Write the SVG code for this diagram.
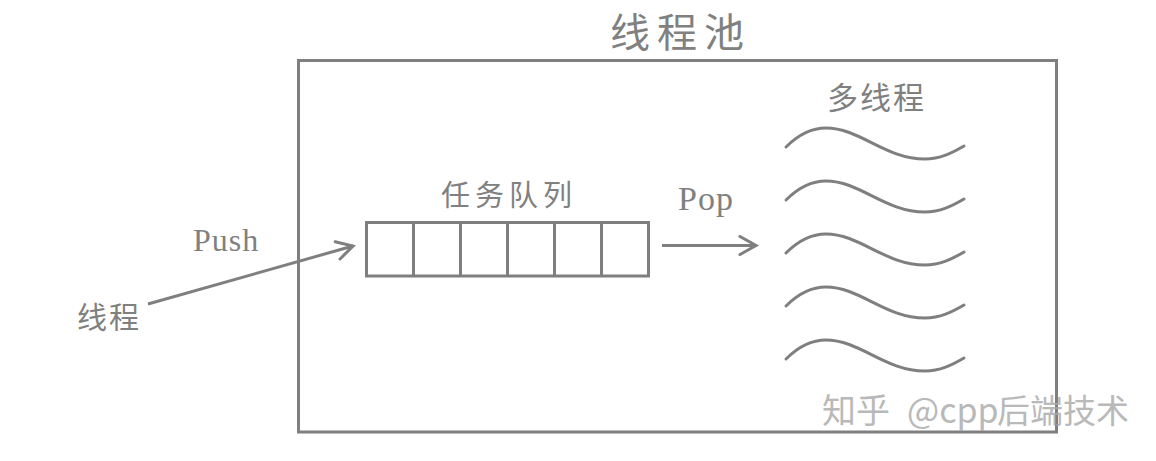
<svg xmlns="http://www.w3.org/2000/svg" width="1156" height="461" viewBox="0 0 1156 461">
<style>
.ln{fill:none;stroke:#7f7f7f;stroke-width:3}
.wv{fill:none;stroke:#7f7f7f;stroke-width:3;stroke-linecap:round}
.cj{font-family:"Noto Sans CJK SC","Noto Sans CJK JP",sans-serif;fill:#808080}
.la{font-family:"Liberation Serif",serif;fill:#808080}
</style>
<defs>
<path id="wave" d="M786 147C800 133 814 128 826 128C860 128 885 159 925 159C940 159 952 153 964 146"/>
<marker id="arr" markerUnits="userSpaceOnUse" markerWidth="30" markerHeight="30" refX="22" refY="11" orient="auto" viewBox="0 0 30 30"><path d="M6 2L22 11L6 20" fill="none" stroke="#7f7f7f" stroke-width="3" stroke-linecap="round"/></marker>
</defs>
<rect width="1156" height="461" fill="#fff"/>
<g id="title"><text class="cj" x="610" y="46.500" font-size="40" letter-spacing="7">线程池</text></g>
<g id="pool"><rect class="ln" x="298.500" y="60.500" width="758" height="371.500"/></g>
<g id="threads">
<text class="cj" x="827" y="109" font-size="31" letter-spacing="2">多线程</text>
<use href="#wave" class="wv"/>
<use href="#wave" class="wv" y="53"/>
<use href="#wave" class="wv" y="106"/>
<use href="#wave" class="wv" y="159"/>
<use href="#wave" class="wv" y="212"/>
</g>
<g id="queue">
<text class="cj" x="441" y="206" font-size="29" letter-spacing="5">任务队列</text>
<rect class="ln" x="366.500" y="222.500" width="282" height="53.500"/>
<path class="ln" d="M413.500 222.500V276M460.500 222.500V276M507.500 222.500V276M554.500 222.500V276M601.500 222.500V276"/>
</g>
<g id="producer"><text class="cj" x="77" y="328" font-size="30" letter-spacing="2">线程</text></g>
<g id="connectors">
<path class="ln" d="M148 304L353 246" marker-end="url(#arr)"/>
<path class="ln" d="M662 245.500H756" marker-end="url(#arr)"/>
</g>
<g id="labels">
<text class="la" x="193" y="251" font-size="32" letter-spacing="1">Push</text>
<text class="la" x="678" y="210" font-size="34" letter-spacing="1">Pop</text>
</g>
<g id="watermark"><text class="cj" y="423" font-size="34" style="fill:#a8a8a8" opacity="0.8"><tspan x="822">知乎</tspan> <tspan x="907">@cpp</tspan><tspan x="997" font-size="33">后端技术</tspan></text></g>
</svg>
